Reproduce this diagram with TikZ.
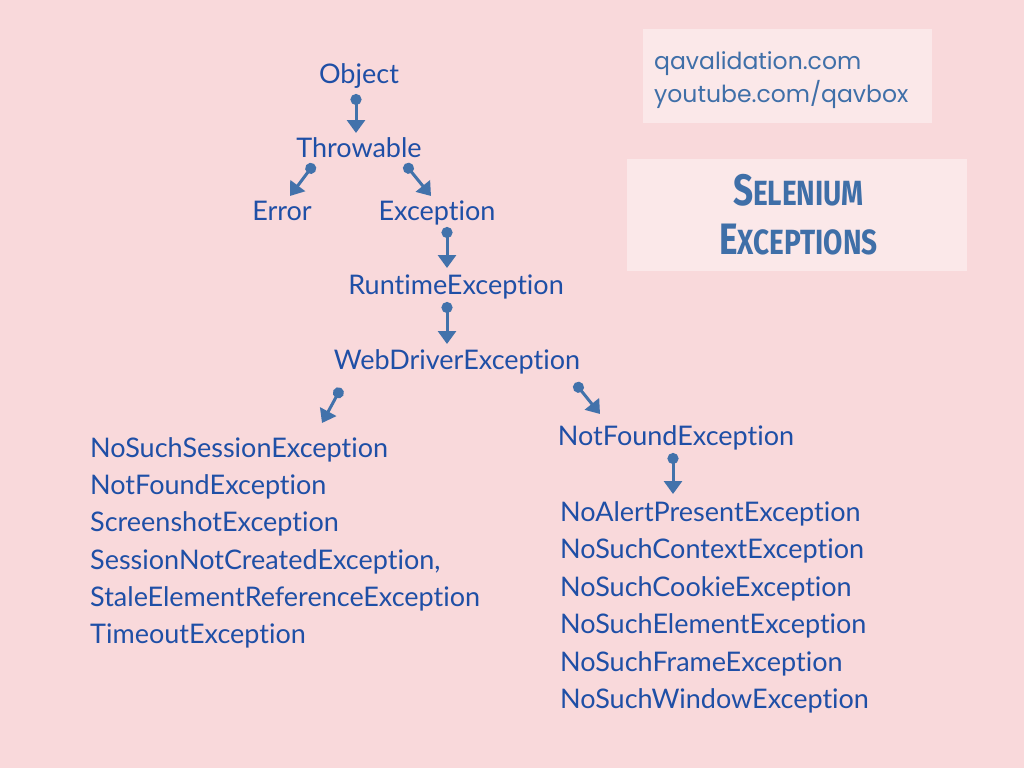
\documentclass[tikz,border=0pt]{standalone}
\usepackage{fontspec}
\setmainfont{Lato}[Ligatures={NoCommon,NoContextual}]
\newfontfamily\webfont{Poppins}
\newfontfamily\titlefont[FakeStretch=0.8]{Fira Sans}
\usetikzlibrary{arrows.meta}
\definecolor{bgpink}{HTML}{F9D9DB}
\definecolor{boxpink}{HTML}{FBE8E9}
\definecolor{textblue}{HTML}{1F4FA6}
\definecolor{arrowblue}{HTML}{4272AB}
\definecolor{titleblue}{HTML}{3F6FA8}
\tikzset{
  lbl/.style={font=\fontsize{27}{30}\selectfont, text=textblue, inner sep=0pt, anchor=base},
  item/.style={lbl, anchor=base west},
  conn/.style={draw=arrowblue, line width=3pt, {Circle[length=11pt,width=11pt]}-{Triangle[length=13pt,width=18pt]}},
  panel/.style={fill=boxpink, draw=none, inner sep=0pt},
  web/.style={font=\webfont\fontsize{23.5}{27}\selectfont, text=titleblue, inner sep=0pt, anchor=base west},
  ttl/.style={text=titleblue, inner sep=0pt, anchor=base},
}
\newcommand{\bigS}[1]{{\fontsize{44}{46}\selectfont #1}}
\newcommand{\smS}[1]{{\fontsize{35}{38}\selectfont #1}}
\begin{document}
\begin{tikzpicture}[x=1pt,y=-1pt]
\fill[bgpink] (0,0) rectangle (1024,768);
\useasboundingbox (0,0) rectangle (1024,768);
% panels
\node[panel, minimum width=289pt, minimum height=94pt] (webbox) at (787.5,76) {};
\node[panel, minimum width=340pt, minimum height=112pt] (titlebox) at (797,215) {};
\node[web] (w1) at (654,70) {qavalidation.com};
\node[web] (w2) at (654,102) {youtube.com/qavbox};
\node[ttl, font=\titlefont\bfseries] (t1) at (798.5,205) {\bigS{S}\smS{ELENIUM}};
\node[ttl, font=\titlefont\bfseries] (t2) at (798.5,254) {\bigS{E}\smS{XCEPTIONS}};
% tree
\node[lbl] (obj) at (359,83) {Object};
\node[lbl] (thr) at (359,157) {Throwable};
\node[lbl] (err) at (282,220) {Error};
\node[lbl] (exc) at (437,220) {Exception};
\node[lbl] (rt) at (456,294) {RuntimeException};
\node[lbl] (wd) at (457,369) {WebDriverException};
\node[lbl] (nf) at (676,445) {NotFoundException};
% left list
\node[item] (l1) at (90,457) {NoSuchSessionException};
\node[item] (l2) at (90,494) {NotFoundException};
\node[item] (l3) at (90,531.5) {ScreenshotException};
\node[item] (l4) at (90,569) {SessionNotCreatedException,};
\node[item] (l5) at (90,606) {StaleElementReferenceException};
\node[item] (l6) at (90,643) {TimeoutException};
% right list
\node[item] (r1) at (560,521) {NoAlertPresentException};
\node[item] (r2) at (560,558.5) {NoSuchContextException};
\node[item] (r3) at (560,596) {NoSuchCookieException};
\node[item] (r4) at (560,633.5) {NoSuchElementException};
\node[item] (r5) at (560,671) {NoSuchFrameException};
\node[item] (r6) at (560,708.5) {NoSuchWindowException};
% connectors
\draw[conn] ([shift={(-3,11)}]obj.base) -- ([shift={(-3,-24)}]thr.base);
\draw[conn] ([shift={(-45,7)}]thr.base) -- ([shift={(8,-24)}]err.base);
\draw[conn] ([shift={(46,7)}]thr.base) -- ([shift={(-6,-24)}]exc.base);
\draw[conn] ([shift={(10,7)}]exc.base) -- ([shift={(-9,-26)}]rt.base);
\draw[conn] ([shift={(-9,8)}]rt.base) -- ([shift={(-10,-25)}]wd.base);
\draw[conn] ([shift={(-116,19)}]wd.base) -- ([shift={(232,-34)}]l1.base west);
\draw[conn] ([shift={(118,14)}]wd.base) -- ([shift={(-76,-31)}]nf.base);
\draw[conn] ([shift={(-3,8)}]nf.base) -- ([shift={(113,-27)}]r1.base west);
\end{tikzpicture}
\end{document}
